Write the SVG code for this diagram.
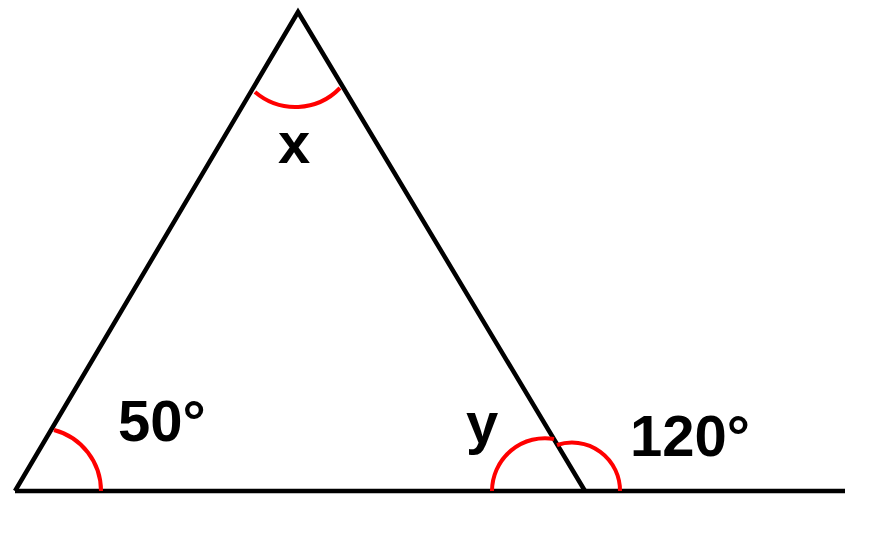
<svg xmlns="http://www.w3.org/2000/svg" width="886" height="552" viewBox="0 0 886 552">
<style>
.ln{stroke:#000;stroke-width:4.5;fill:none;stroke-linecap:butt;stroke-linejoin:miter}
.arc{stroke:#f00;stroke-width:4;fill:none}
.t{font-family:"Liberation Sans",Arial,sans-serif;font-weight:bold;font-size:58px;fill:#000}
</style>
<rect width="886" height="552" fill="#fff"/>
<g id="connectors">
<path class="ln" d="M15,491 L298,12 L585,491"/>
<path class="ln" d="M15,491 L845,491"/>
</g>
<g id="angle-apex">
<path class="arc" d="M255,92 A62,62 0 0 0 340,88"/>
<text class="t" x="278" y="163">x</text>
</g>
<g id="angle-50">
<path class="arc" d="M54,430 A63,63 0 0 1 101,491"/>
<text class="t" x="118" y="441">50°</text>
</g>
<g id="angle-y">
<path class="arc" d="M492,491 A53,53 0 0 1 554,439"/>
<text class="t" x="466" y="443">y</text>
</g>
<g id="angle-120">
<path class="arc" d="M557,445 A48,48 0 0 1 620,491"/>
<text class="t" x="630" y="456">120°</text>
</g>
</svg>
